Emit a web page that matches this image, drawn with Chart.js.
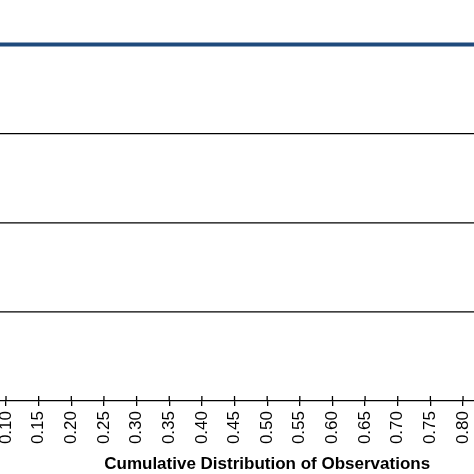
<!DOCTYPE html>
<html><head><meta charset="utf-8">
<script src="https://cdn.jsdelivr.net/npm/chart.js@4"></script>
<style>html,body{margin:0;padding:0;background:#fff}#wrap{width:474px;height:474px}</style>
</head><body><div id="wrap"><canvas id="myChart"></canvas></div>
<script>
// visible x range of the cropped figure
const xMin = 0.0908, xMax = 0.8168;
const tickValues = [0.10,0.15,0.20,0.25,0.30,0.35,0.40,0.45,0.50,0.55,0.60,0.65,0.70,0.75,0.80];
const lineLevels = [4, 3, 2, 1];
const lineColors = ['#1f4a7c', '#000', '#000', '#000'];
const lineWidths = [4, 1.3, 1.3, 1.3];
const xTitle = 'Cumulative Distribution of Observations';
const xTitleCenter = 0.50; // the original (uncropped) axis title sits around here

// ticks that cross the axis line (upward half) + axis title centred on the full original axis
const extras = {
  id: 'extras',
  afterDraw(chart) {
    const x = chart.scales.x, ctx = chart.ctx;
    ctx.save();
    ctx.strokeStyle = '#000'; ctx.lineWidth = 1.3;
    tickValues.forEach(v => {
      const px = x.getPixelForValue(v);
      ctx.beginPath(); ctx.moveTo(px, x.top); ctx.lineTo(px, x.top - 5); ctx.stroke();
    });
    ctx.fillStyle = '#000';
    ctx.font = 'bold 17px "Liberation Sans"';
    ctx.textAlign = 'center'; ctx.textBaseline = 'middle';
    ctx.fillText(xTitle, x.getPixelForValue(xTitleCenter), 464);
    ctx.restore();
  }
};

new Chart(document.getElementById('myChart'), {
  type: 'line',
  data: {
    datasets: lineLevels.map((lv, i) => ({
      data: [{x: xMin, y: lv}, {x: xMax, y: lv}],
      borderColor: lineColors[i],
      borderWidth: lineWidths[i],
      pointRadius: 0
    }))
  },
  options: {
    responsive: true, maintainAspectRatio: false, animation: false,
    layout: {padding: 0},
    plugins: {legend: {display: false}, tooltip: {enabled: false}},
    scales: {
      y: {display: false, min: 0, max: 4.5},
      x: {
        type: 'linear', min: xMin, max: xMax,
        afterBuildTicks: s => { s.ticks = tickValues.map(v => ({value: v})); },
        afterFit: s => { s.height = 73; s.paddingLeft = 0; s.paddingRight = 0; },
        border: {color: '#000', width: 1.3},
        grid: {drawOnChartArea: false, tickLength: 5, color: '#000', lineWidth: 1.3},
        ticks: {
          color: '#000', font: {family: 'Liberation Sans', size: 17},
          minRotation: 90, maxRotation: 90, padding: 5,
          callback: v => v.toFixed(2)
        }
      }
    }
  },
  plugins: [extras]
});
</script></body></html>
